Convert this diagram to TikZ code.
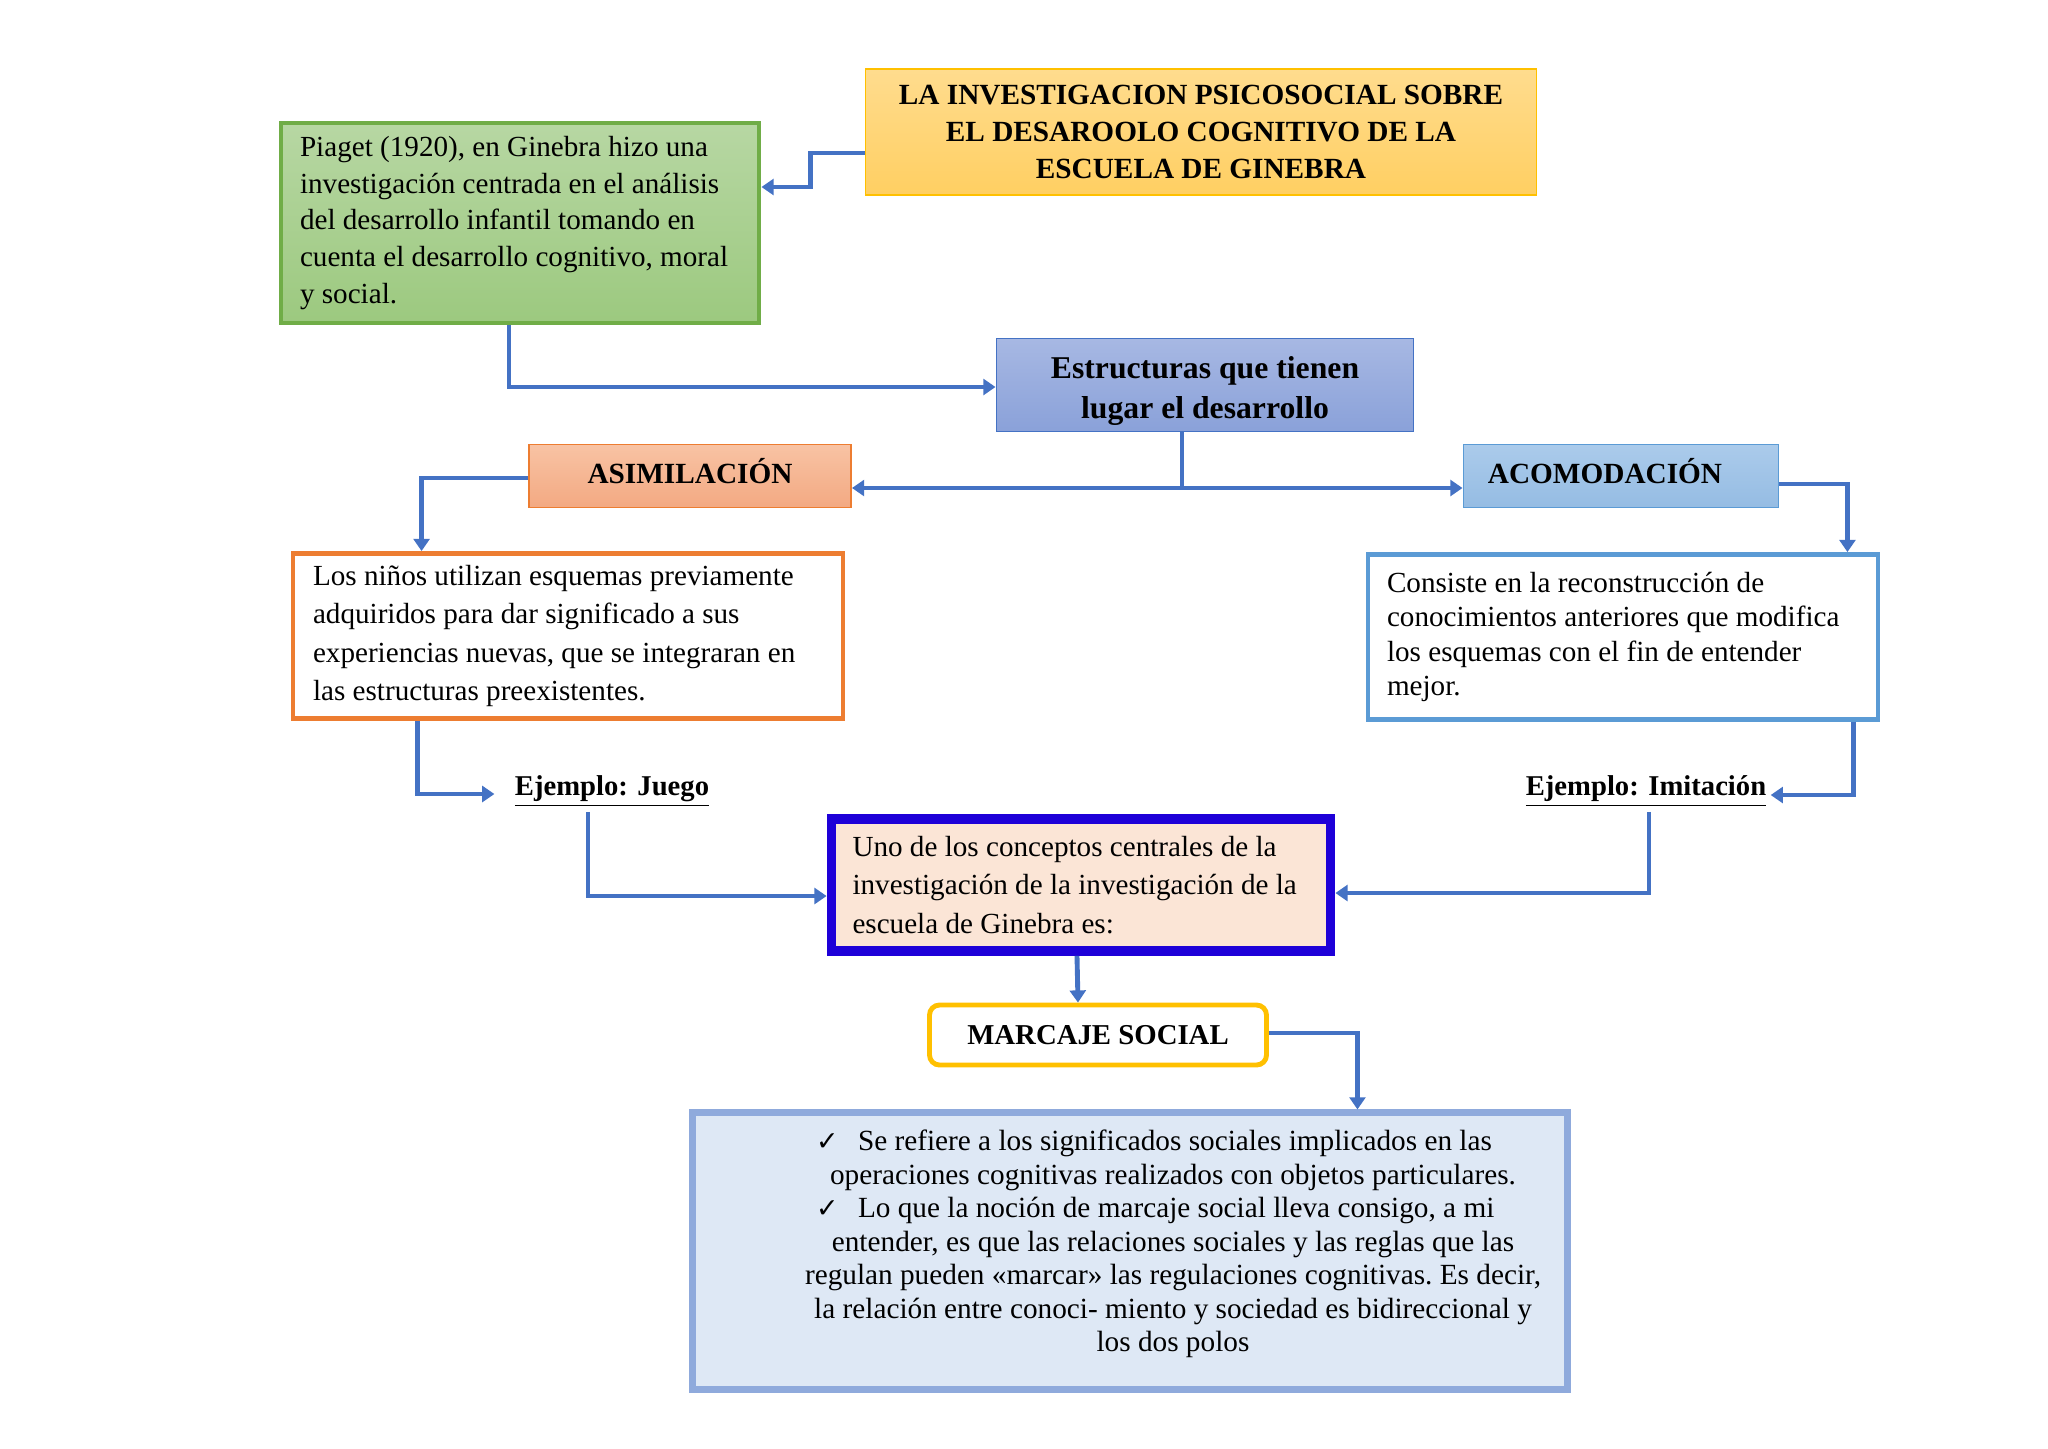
\documentclass[tikz,border=0pt]{standalone}
\usepackage{fontspec}
\setmainfont{Liberation Serif}
\newfontfamily\symfont{DejaVu Sans}
\usetikzlibrary{positioning,calc,arrows.meta}

\newlength{\px}\setlength{\px}{0.41pt}

\definecolor{linkblue}{HTML}{4472C4}
\definecolor{titletop}{HTML}{FFDC8E}
\definecolor{titlebot}{HTML}{FFCF62}
\definecolor{titleline}{HTML}{FFC000}
\definecolor{greentop}{HTML}{B7D7A3}
\definecolor{greenbot}{HTML}{9CC97F}
\definecolor{greenline}{HTML}{70AD47}
\definecolor{estrtop}{HTML}{A7B8E3}
\definecolor{estrbot}{HTML}{8AA1D9}
\definecolor{asimtop}{HTML}{F8C3A4}
\definecolor{asimbot}{HTML}{F3A982}
\definecolor{orangeline}{HTML}{ED7D31}
\definecolor{acomtop}{HTML}{ABCBEB}
\definecolor{acombot}{HTML}{95BCE3}
\definecolor{skyline}{HTML}{5B9BD5}
\definecolor{centralfill}{HTML}{FBE5D6}
\definecolor{centralline}{HTML}{1E00D8}
\definecolor{bottomfill}{HTML}{DEE8F5}
\definecolor{bottomline}{HTML}{8FAADC}

\newcommand{\tick}{\makebox[42\px][l]{\symfont\fontsize{11}{11}\selectfont ✓}}
\newcommand{\tickline}[1]{\makebox[714\px][l]{\tick#1}}

\tikzset{
  link/.style={draw=linkblue, line width=2pt, -{Triangle[length=5pt,width=6.5pt]}},
  card/.style={inner ysep=0pt, align=flush left},
  headbox/.style={align=flush center, inner sep=0pt, font=\fontsize{12}{15}\selectfont\bfseries},
}

\begin{document}
\begin{tikzpicture}[x=\px,y=-\px]
\useasboundingbox (0,0) rectangle (2048,1448);
% boxes
\node (title) [headbox, top color=titletop, bottom color=titlebot, draw=titleline, line width=0.8pt,
  minimum width=671\px, minimum height=126\px, font=\fontsize{12}{15.1}\selectfont\bfseries] at (1201,132)
  {LA INVESTIGACION PSICOSOCIAL SOBRE\\EL DESAROOLO COGNITIVO DE LA\\ESCUELA DE GINEBRA};
\node (green) [card, top color=greentop, bottom color=greenbot, draw=greenline, line width=2pt,
  text width=440\px, inner xsep=19\px, minimum height=200\px, font=\fontsize{11.95}{15.1}\selectfont] at (520,223)
  {Piaget (1920), en Ginebra hizo una\\investigación centrada en el análisis\\del desarrollo infantil tomando en\\cuenta el desarrollo cognitivo, moral\\y social.};
\node (estr) [headbox, top color=estrtop, bottom color=estrbot, draw=linkblue, line width=0.8pt,
  minimum width=417\px, minimum height=93\px, font=\fontsize{13}{16.2}\selectfont\bfseries] at (1205,385)
  {\rule{0pt}{14pt}Estructuras que tienen\\lugar el desarrollo};
\node (asim) [headbox, top color=asimtop, bottom color=asimbot, draw=orangeline, line width=0.8pt,
  minimum width=322\px, minimum height=63\px, text depth=4pt] at (690,476) {ASIMILACIÓN};
\node (acom) [headbox, top color=acomtop, bottom color=acombot, draw=skyline, line width=0.8pt,
  minimum width=315\px, minimum height=63\px, text depth=4pt] at (1621,476) {ACOMODACIÓN\hspace*{32\px}};
\node (orange) [card, fill=white, draw=orangeline, line width=2pt,
  text width=510\px, inner xsep=20\px, minimum height=165\px, font=\fontsize{11.95}{15.7}\selectfont] at (568,636)
  {Los niños utilizan esquemas previamente\\adquiridos para dar significado a sus\\experiencias nuevas, que se integraran en\\las estructuras preexistentes.};
\node (accbox) [card, fill=white, draw=skyline, line width=2pt,
  text width=472\px, inner xsep=19\px, minimum height=165\px, font=\fontsize{11.95}{14}\selectfont] at (1623,637)
  {Consiste en la reconstrucción de\\conocimientos anteriores que modifica\\los esquemas con el fin de entender\\mejor.};
\node (juego) [inner xsep=20\px, inner ysep=2pt, font=\fontsize{11.75}{14}\selectfont\bfseries] at (612,791)
  {\underline{Ejemplo: Juego}};
\node (imit) [inner xsep=4\px, inner ysep=2pt, font=\fontsize{11.75}{14}\selectfont\bfseries] at (1646,791)
  {\underline{Ejemplo: Imitación}};
\node (central) [card, fill=centralfill, draw=centralline, line width=4pt,
  text width=457\px, inner xsep=21\px, minimum height=132\px, font=\fontsize{11.95}{15.7}\selectfont] at (1081,885)
  {Uno de los conceptos centrales de la\\investigación de la investigación de la\\escuela de Ginebra es:};
\node (marcaje) [headbox, fill=white, draw=titleline, line width=2pt, rounded corners=10\px,
  minimum width=337\px, minimum height=60\px, font=\fontsize{11.8}{14}\selectfont\bfseries] at (1098,1035)
  {MARCAJE SOCIAL};
\node (bottom) [fill=bottomfill, draw=bottomline, line width=2.5pt,
  minimum width=875\px, minimum height=277\px] at (1130,1251) {};
\node (btext) [align=flush center, text width=820\px, inner sep=0pt,
  font=\fontsize{12}{13.75}\selectfont\frenchspacing] at (1173,1244)
  {\tickline{Se refiere a los significados sociales implicados en las}\\%
   operaciones cognitivas realizados con objetos particulares.\\%
   \tickline{Lo que la noción de marcaje social lleva consigo, a mi}\\%
   entender, es que las relaciones sociales y las reglas que las\\%
   regulan pueden «marcar» las regulaciones cognitivas. Es decir,\\%
   la relación entre conoci- miento y sociedad es bidireccional y\\%
   los dos polos};
% connectors
\draw[link] ($(title.west)+(0,21)$) -- ++(-54,0) |- ($(green.east)+(0,-36)$);
\draw[link] ($(green.south)+(-11,0)$) |- ($(estr.west)+(0,2)$);
\draw[link] ($(estr.south)+(-23,0)$) |- ($(asim.east)+(0,12)$);
\draw[link] ($(estr.south)+(-23,0)$) |- ($(acom.west)+(0,12)$);
\draw[link] ($(asim.west)+(0,2)$) -| ($(orange.north west)+(131,0)$);
\draw[link] ($(acom.east)+(0,8)$) -| ($(accbox.north east)+(-33,0)$);
\draw[link] ($(orange.south west)+(127,0)$) |- ($(juego.west)+(0,3)$);
\draw[link] ($(accbox.south east)+(-27,0)$) |- ($(imit.east)+(0,4)$);
\draw[link] ($(juego.south)+(-24,0)$) |- ($(central.west)+(0,11)$);
\draw[link] ($(imit.south)+(3,0)$) |- ($(central.east)+(0,8)$);
\draw[link] ($(central.south)+(-4,0)$) -- ($(marcaje.north)+(-20,0)$);
\draw[link] ($(marcaje.east)+(0,-2)$) -| ($(bottom.north west)+(668,0)$);
\end{tikzpicture}
\end{document}
